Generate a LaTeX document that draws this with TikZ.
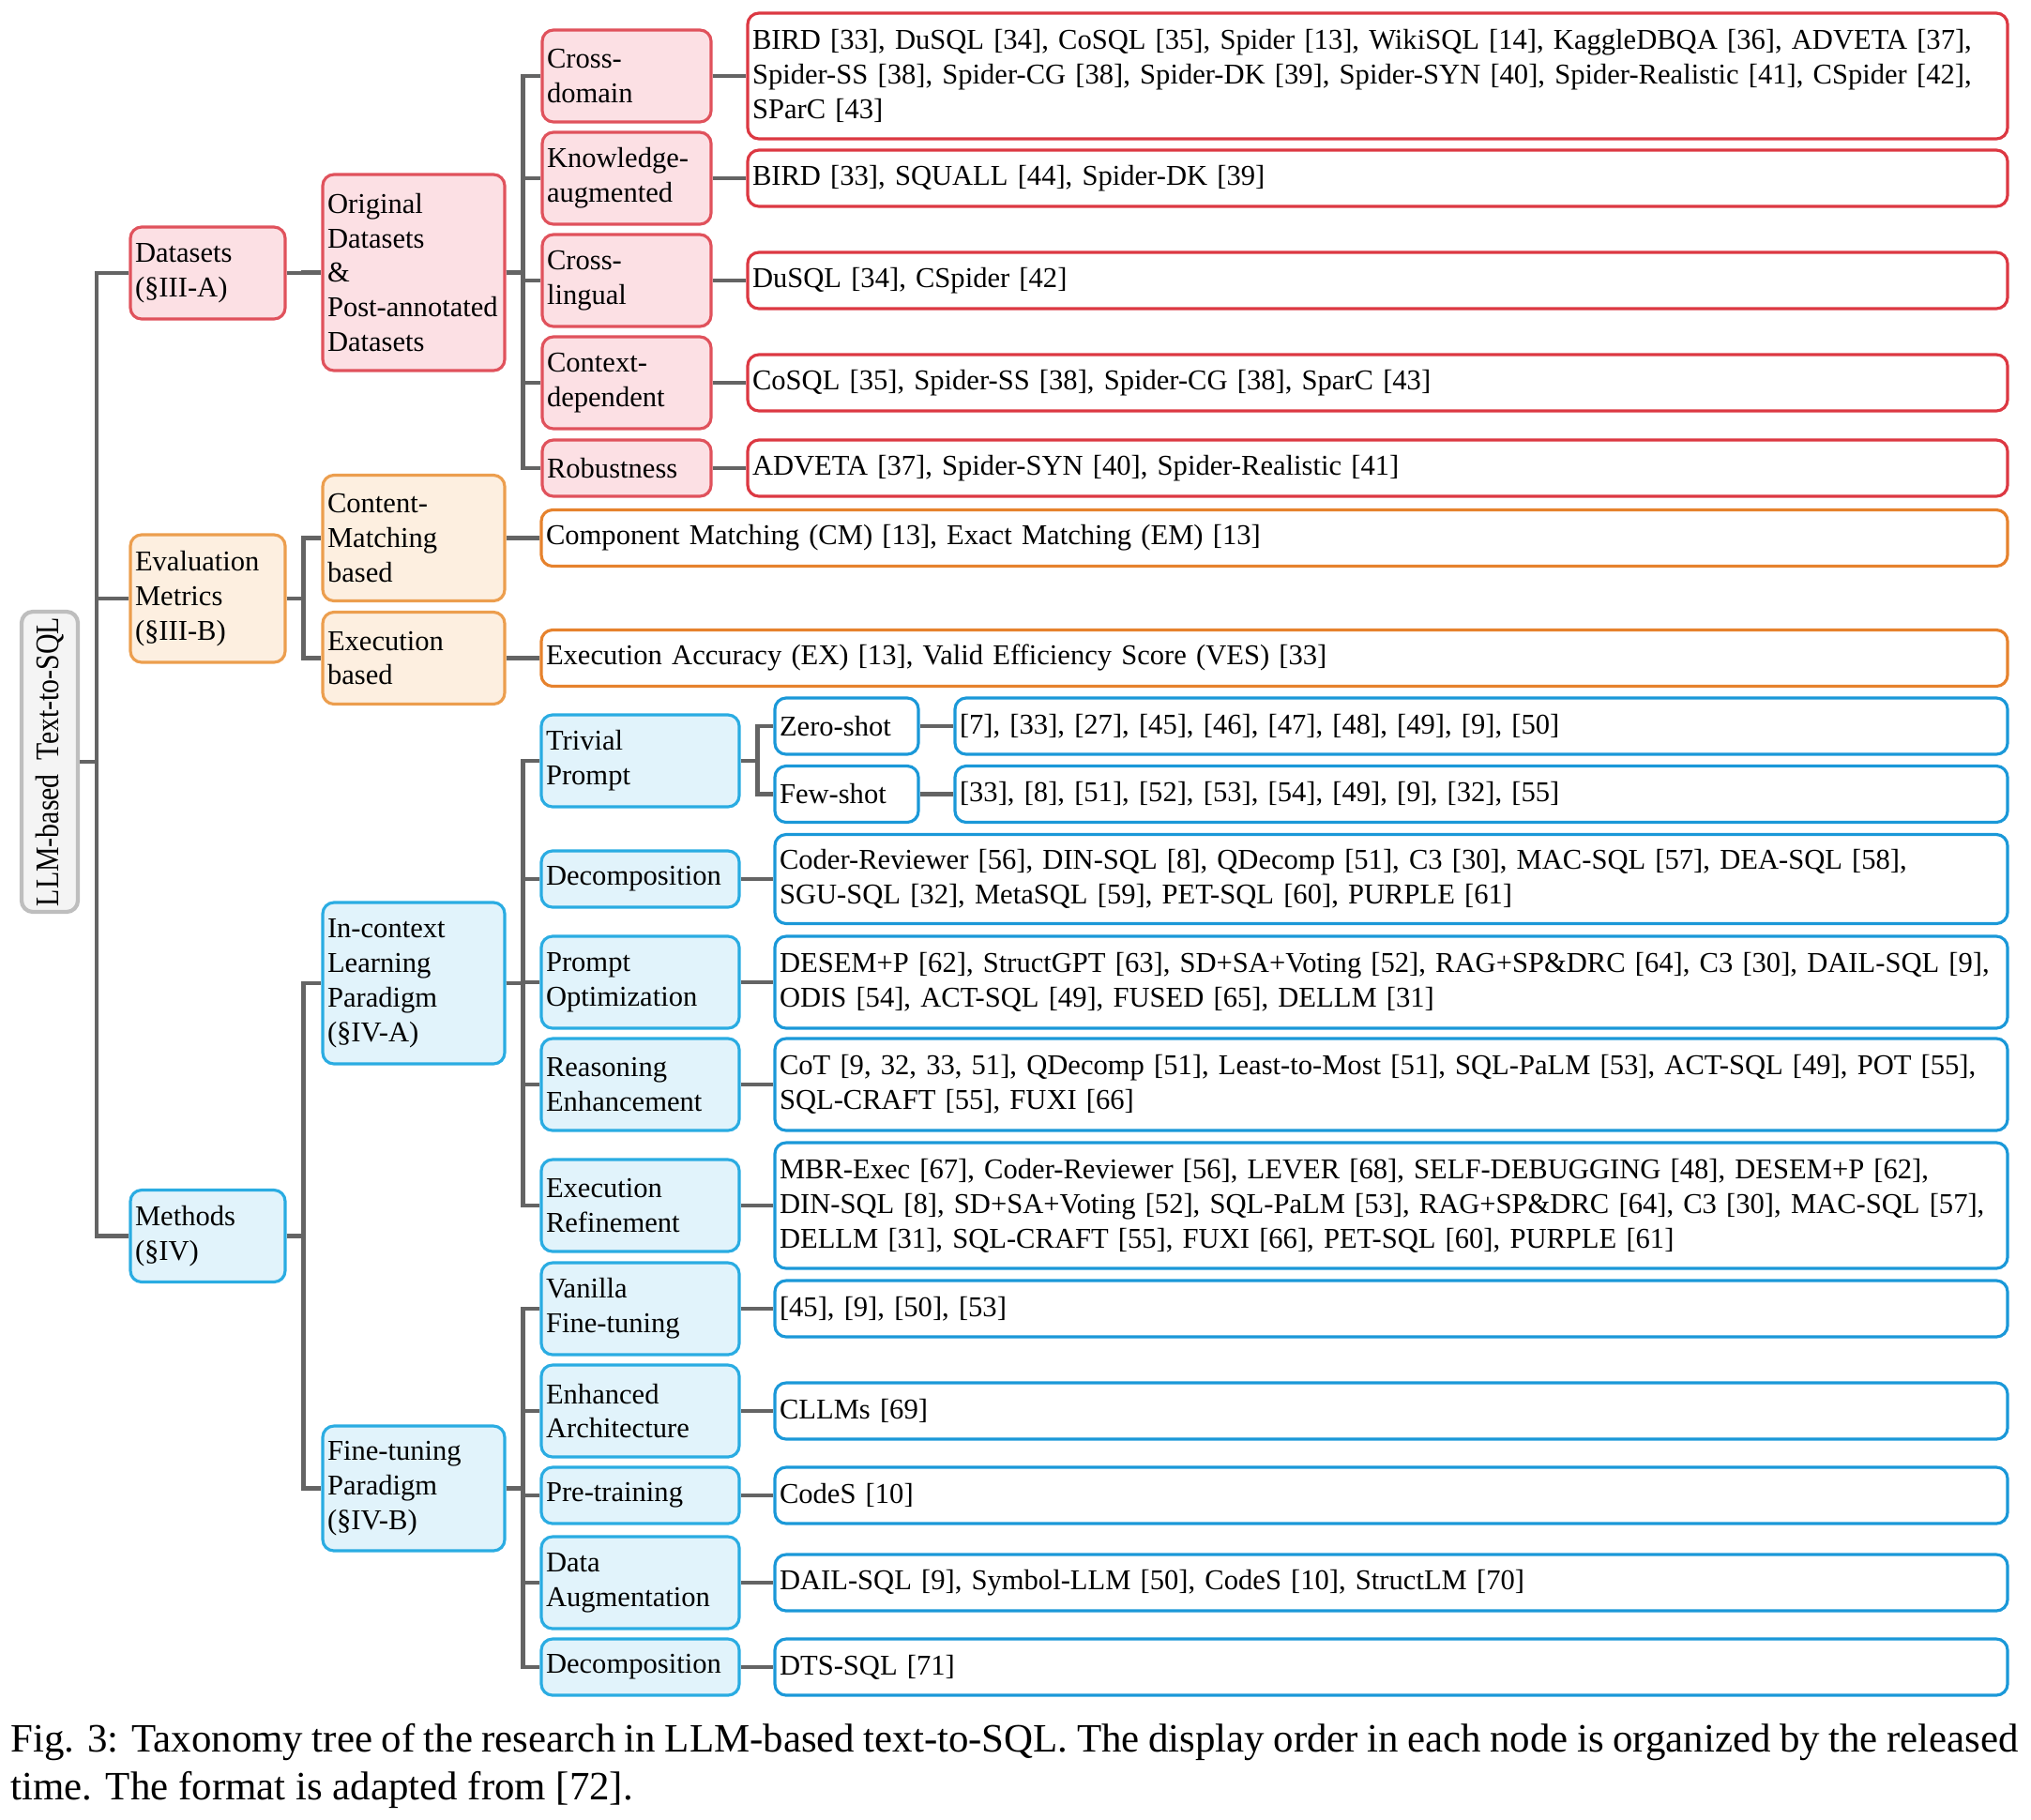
\documentclass[tikz,border=0pt]{standalone}
\usepackage{fontspec}
\setmainfont{Liberation Serif}
\usepackage{graphicx}
\usepackage{tikz}

\definecolor{redline}{RGB}{224,82,92}
\definecolor{redfill}{RGB}{252,224,228}
\definecolor{redleaf}{RGB}{220,56,66}
\definecolor{orangeline}{RGB}{236,158,78}
\definecolor{orangefill}{RGB}{253,239,224}
\definecolor{orangeleaf}{RGB}{230,130,45}
\definecolor{blueline}{RGB}{42,172,226}
\definecolor{bluefill}{RGB}{225,243,251}
\definecolor{blueleaf}{RGB}{26,152,216}
\definecolor{rootline}{RGB}{190,190,190}
\definecolor{rootfill}{RGB}{244,244,244}
\definecolor{linkgray}{RGB}{100,100,100}
\newcommand{\nodefont}{\fontsize{8.7}{10.5}\selectfont}

\begin{document}
\begin{tikzpicture}[
  base/.style={rounded corners=3.4pt, line width=0.9pt, inner xsep=0.05cm,
               inner ysep=0pt, align=left, font=\nodefont},
  catbox/.style={base, draw=#1line, fill=#1fill, minimum height=0.98cm},
  leafbox/.style={base, draw=#1leaf, fill=white, minimum height=0.60cm},
  rootbox/.style={base, draw=rootline, fill=rootfill, line width=1.2pt,
                  minimum width=0.60cm, minimum height=3.20cm, inner xsep=0pt},
  colone/.style={text width=1.55cm},
  coltwo/.style={text width=1.84cm},
  colthree/.style={text width=1.70cm},
  colthreeb/.style={text width=2.01cm},
  colshot/.style={text width=1.43cm},
  leafred/.style={text width=13.33cm},
  leaforange/.style={text width=15.53cm},
  leafshot/.style={text width=11.12cm},
  leafblue/.style={text width=13.04cm},
  link/.style={draw=linkgray, line width=1.2pt},
]
\useasboundingbox (0,0) rectangle (21.65,-19.39);

% Root
\node[rootbox] (root) at (0.53,-8.12)
  {\rotatebox{90}{\scalebox{0.85}[1]{\fontsize{10}{12}\selectfont LLM-based\ \ Text-to-SQL}}};

% First level
\node[catbox=red, colone] (data) at (2.215,-2.91) {Datasets\\(\S III-A)};
\node[catbox=orange, colone, minimum height=1.36cm] (eval) at (2.215,-6.38)
  {Evaluation\\Metrics\\(\S III-B)};
\node[catbox=blue, colone] (meth) at (2.215,-13.175) {Methods\\(\S IV)};

% Second level
\node[catbox=red, coltwo, minimum height=2.09cm] (orig) at (4.41,-2.905)
  {Original\\Datasets\\\&\\\mbox{Post-annotated}\\Datasets};
\node[catbox=orange, coltwo, minimum height=1.34cm] (cmb) at (4.41,-5.735)
  {Content-\\Matching\\based};
\node[catbox=orange, coltwo] (exb) at (4.41,-7.015) {Execution\\based};
\node[catbox=blue, coltwo, minimum height=1.72cm] (icl) at (4.41,-10.48)
  {In-context\\Learning\\Paradigm\\(\S IV-A)};
\node[catbox=blue, coltwo, minimum height=1.33cm] (ftp) at (4.41,-15.865)
  {Fine-tuning\\Paradigm\\(\S IV-B)};

% Third level, datasets
\node[catbox=red, colthree] (xdom) at (6.68,-0.81) {Cross-\\domain};
\node[catbox=red, colthree] (know) at (6.68,-1.90) {Knowledge-\\augmented};
\node[catbox=red, colthree] (xling) at (6.68,-2.99) {Cross-\\lingual};
\node[catbox=red, colthree] (ctx) at (6.68,-4.08) {Context-\\dependent};
\node[catbox=red, colthree, minimum height=0.60cm] (robust) at (6.68,-4.99)
  {Robustness};

% Third level, methods
\node[catbox=blue, colthreeb] (triv) at (6.825,-8.11) {Trivial\\Prompt};
\node[catbox=blue, colthreeb, minimum height=0.60cm] (dec) at (6.825,-9.37)
  {Decomposition};
\node[catbox=blue, colthreeb] (popt) at (6.825,-10.47) {Prompt\\Optimization};
\node[catbox=blue, colthreeb] (reas) at (6.825,-11.56) {Reasoning\\Enhancement};
\node[catbox=blue, colthreeb] (exref) at (6.825,-12.85) {Execution\\Refinement};
\node[catbox=blue, colthreeb] (van) at (6.825,-13.95) {Vanilla\\Fine-tuning};
\node[catbox=blue, colthreeb] (enh) at (6.825,-15.04) {Enhanced\\Architecture};
\node[catbox=blue, colthreeb, minimum height=0.60cm] (pre) at (6.825,-15.94)
  {Pre-training};
\node[catbox=blue, colthreeb] (aug) at (6.825,-16.87) {Data\\Augmentation};
\node[catbox=blue, colthreeb, minimum height=0.60cm] (dectwo) at (6.825,-17.77)
  {Decomposition};

% Shot settings
\node[leafbox=blue, colshot] (zero) at (9.025,-7.74) {Zero-shot};
\node[leafbox=blue, colshot] (few) at (9.025,-8.465) {Few-shot};

% Leaves
\node[leafbox=red, leafred, minimum height=1.34cm] (xdomL) at (14.685,-0.81)
  {BIRD [33], DuSQL [34], CoSQL [35], Spider [13], WikiSQL [14], KaggleDBQA [36], ADVETA [37],\\
   Spider-SS [38], Spider-CG [38], Spider-DK [39], Spider-SYN [40], Spider-Realistic [41], CSpider [42],\\
   SParC [43]};
\node[leafbox=red, leafred] (knowL) at (14.685,-1.90) {BIRD [33], SQUALL [44], Spider-DK [39]};
\node[leafbox=red, leafred] (xlingL) at (14.685,-2.99) {DuSQL [34], CSpider [42]};
\node[leafbox=red, leafred] (ctxL) at (14.685,-4.08)
  {CoSQL [35], Spider-SS [38], Spider-CG [38], SparC [43]};
\node[leafbox=red, leafred] (robustL) at (14.685,-4.99)
  {ADVETA [37], Spider-SYN [40], Spider-Realistic [41]};
\node[leafbox=orange, leaforange] (cmbL) at (13.585,-5.735)
  {Component Matching (CM) [13], Exact Matching (EM) [13]};
\node[leafbox=orange, leaforange] (exbL) at (13.585,-7.015)
  {Execution Accuracy (EX) [13], Valid Efficiency Score (VES) [33]};
\node[leafbox=blue, leafshot] (zeroL) at (15.79,-7.74)
  {[7], [33], [27], [45], [46], [47], [48], [49], [9], [50]};
\node[leafbox=blue, leafshot] (fewL) at (15.79,-8.465)
  {[33], [8], [51], [52], [53], [54], [49], [9], [32], [55]};
\node[leafbox=blue, leafblue, minimum height=0.95cm] (decL) at (14.83,-9.37)
  {Coder-Reviewer [56], DIN-SQL [8], QDecomp [51], C3 [30], MAC-SQL [57], DEA-SQL [58],\\
   SGU-SQL [32], MetaSQL [59], PET-SQL [60], PURPLE [61]};
\node[leafbox=blue, leafblue, minimum height=0.98cm] (poptL) at (14.83,-10.47)
  {DESEM+P [62], StructGPT [63], SD+SA+Voting [52], RAG+SP\&DRC [64], C3 [30], DAIL-SQL [9],\\
   ODIS [54], ACT-SQL [49], FUSED [65], DELLM [31]};
\node[leafbox=blue, leafblue, minimum height=0.98cm] (reasL) at (14.83,-11.56)
  {CoT [9, 32, 33, 51], QDecomp [51], Least-to-Most [51], SQL-PaLM [53], ACT-SQL [49], POT [55],\\
   SQL-CRAFT [55], FUXI [66]};
\node[leafbox=blue, leafblue, minimum height=1.34cm] (exrefL) at (14.83,-12.85)
  {MBR-Exec [67], Coder-Reviewer [56], LEVER [68], SELF-DEBUGGING [48], DESEM+P [62],\\
   DIN-SQL [8], SD+SA+Voting [52], SQL-PaLM [53], RAG+SP\&DRC [64], C3 [30], MAC-SQL [57],\\
   DELLM [31], SQL-CRAFT [55], FUXI [66], PET-SQL [60], PURPLE [61]};
\node[leafbox=blue, leafblue] (vanL) at (14.83,-13.95) {[45], [9], [50], [53]};
\node[leafbox=blue, leafblue] (enhL) at (14.83,-15.04) {CLLMs [69]};
\node[leafbox=blue, leafblue] (preL) at (14.83,-15.94) {CodeS [10]};
\node[leafbox=blue, leafblue] (augL) at (14.83,-16.87)
  {DAIL-SQL [9], Symbol-LLM [50], CodeS [10], StructLM [70]};
\node[leafbox=blue, leafblue] (dectwoL) at (14.83,-17.77) {DTS-SQL [71]};

% Connectors
\foreach \p/\c in {root/data, root/eval, root/meth, data/orig,
    orig/xdom, orig/know, orig/xling, orig/ctx, orig/robust,
    eval/cmb, eval/exb, meth/icl, meth/ftp,
    icl/triv, icl/dec, icl/popt, icl/reas, icl/exref, triv/zero, triv/few,
    ftp/van, ftp/enh, ftp/pre, ftp/aug, ftp/dectwo,
    xdom/xdomL, know/knowL, xling/xlingL, ctx/ctxL, robust/robustL,
    cmb/cmbL, exb/exbL, zero/zeroL, few/fewL, dec/decL, popt/poptL,
    reas/reasL, exref/exrefL, van/vanL, enh/enhL, pre/preL, aug/augL,
    dectwo/dectwoL}
  \draw[link] (\p.east) -- ++(0.18,0) |- (\c.west);

% Caption
\node[anchor=north west, inner sep=0pt, text width=21.40cm, align=justify,
      font=\fontsize{12.2}{14.5}\selectfont] (cap) at (0.11,-18.37)
  {Fig. 3: Taxonomy tree of the research in LLM-based text-to-SQL. The display
   order in each node is organized by the released\linebreak
   time. The format is adapted from [72].};

\end{tikzpicture}
\end{document}
